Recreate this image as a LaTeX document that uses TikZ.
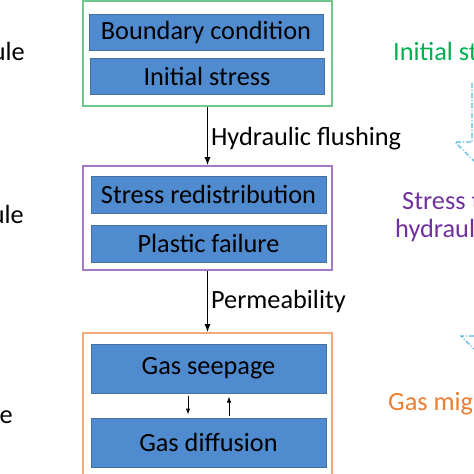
\documentclass[tikz,border=0pt]{standalone}
\usepackage{fontspec}
\setmainfont{Carlito}
\usepackage{tikz}
\usetikzlibrary{arrows.meta, calc, positioning}
\definecolor{boxblue}{RGB}{79,139,206}
\definecolor{boxedge}{RGB}{65,113,156}
\definecolor{initgreen}{RGB}{0,176,80}
\definecolor{framegreen}{RGB}{110,200,140}
\definecolor{stresspurple}{RGB}{112,48,160}
\definecolor{framepurple}{RGB}{165,120,200}
\definecolor{gasorange}{RGB}{237,125,49}
\definecolor{frameorange}{RGB}{244,170,120}
\definecolor{flowblue}{RGB}{90,185,225}
\tikzset{
    font=\fontsize{26.3}{31}\selectfont,
    stepbox/.style ={rectangle, draw=boxedge, fill=boxblue, line width=1pt,
                     minimum width=235, minimum height=37, inner sep=0pt},
    module/.style = {rectangle, draw, line width=1.6pt, minimum width=249, inner sep=0pt},
    link/.style = {-{Latex[length=8pt,width=6pt]}, line width=1.2pt},
    minilink/.style = {-{Latex[length=6pt,width=4.5pt]}, line width=1pt, shorten <=2pt, shorten >=3pt},
    side/.style = {inner sep=0pt},
    flow/.style = {draw=flowblue, line width=1.4pt, dash pattern=on 5pt off 2pt on 1pt off 2pt}
    }

\begin{document}
\begin{tikzpicture}[x=1pt, y=-1pt]
    \useasboundingbox (0,0) rectangle (474,474);
    \clip (0,0) rectangle (474,474);

    % module frames
    \node (initmod)   at (207.5,53.5) [module, draw=framegreen, minimum height=105] {};
    \node (stressmod) at (207.5,218)  [module, draw=framepurple, minimum height=104] {};
    \node (gasmod)    at (207.5,410)  [module, draw=frameorange, minimum height=154] {};

    % steps
    \node (boundary)   at (206,32)    [stepbox, minimum width=234, minimum height=36] {Boundary condition};
    \node (initstress) at (207,76)    [stepbox, minimum width=234, minimum height=36] {Initial stress};
    \node (redist)     at (208.5,194.5) [stepbox] {Stress redistribution};
    \node (plastic)    at (208.5,243.5) [stepbox] {Plastic failure};
    \node (seepage)    at (208.5,368.5) [stepbox, minimum height=49] {Gas seepage};
    \node (diffusion)  at (208.5,442.5) [stepbox, minimum height=49] {Gas diffusion};

    \path[link] (initmod.south) edge node[right, inner sep=3pt, yshift=-3pt] {Hydraulic flushing} (stressmod.north);
    \path[link] (stressmod.south) edge node[right, inner sep=3pt] {Permeability} (gasmod.north);

    \draw[minilink] ([xshift=-20.5pt]seepage.south) -- ([xshift=-20.5pt]diffusion.north);
    \draw[minilink] ([xshift=20.5pt]diffusion.north) -- ([xshift=20.5pt]seepage.south);

    % side texts
    \node (modone)   at (25,60)  [side, anchor=base east] {ule};
    \node (modtwo)   at (24,223) [side, anchor=base east] {ule};
    \node (modthree) at (13,423) [side, anchor=base east] {e};

    \node (initnote)   at (393,60)  [side, anchor=base west, text=initgreen] {Initial st};
    \node (stressnote) at (402,209) [side, anchor=base west, text=stresspurple] {Stress t};
    \node (hydrnote)   at (395,237) [side, anchor=base west, text=stresspurple] {hydraul};
    \node (gasnote)    at (388,410) [side, anchor=base west, text=gasorange] {Gas mig};

    % dashed block arrows
    \draw[flow] (472,83) -- (472,142) -- (455,142) -- (490,177);
    \draw[flow] (478,270) -- (478,336) -- (461,336) -- (490,365);
\end{tikzpicture}
\end{document}
